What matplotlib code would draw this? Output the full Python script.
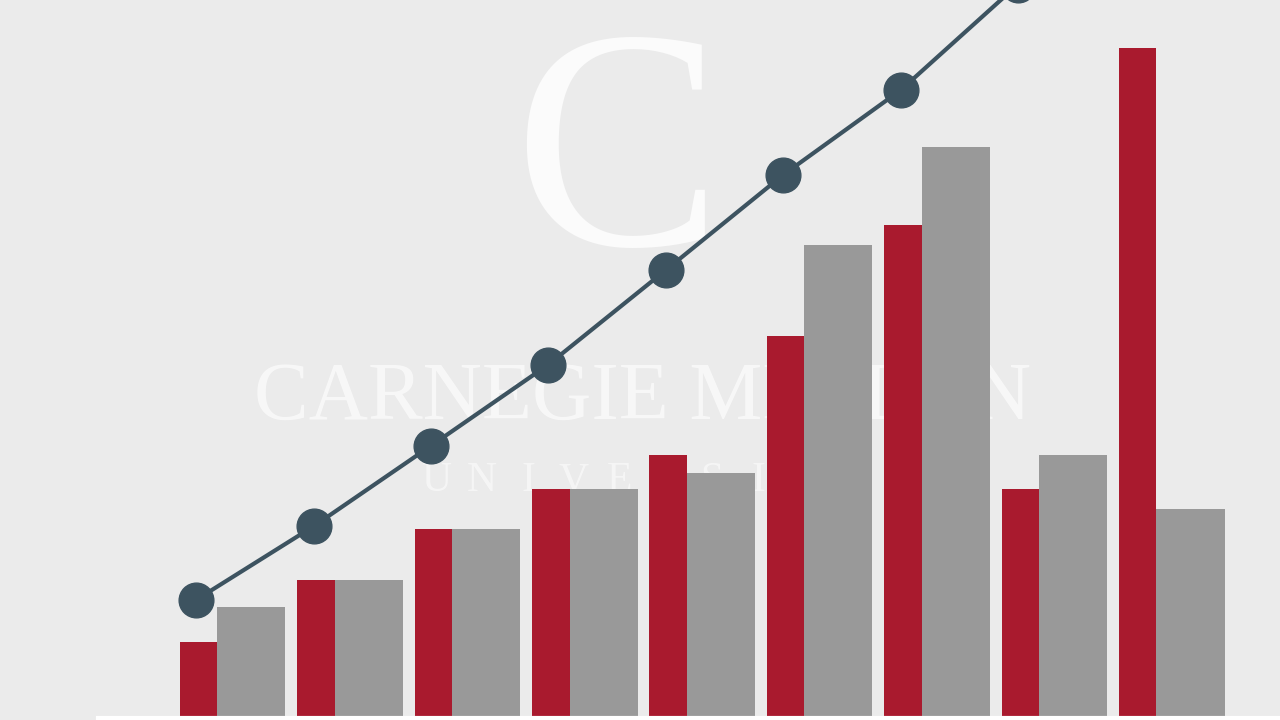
import numpy as np
import matplotlib.pyplot as plt

# values
red_vals = [10.6, 19.4, 26.7, 32.4, 37.3, 54.3, 70.1, 32.4, 95.4]
gray_vals = [15.6, 19.4, 26.7, 32.4, 34.7, 67.3, 81.3, 37.3, 29.6]
line_vals = [16.6, 27.1, 38.6, 50.2, 63.7, 77.3, 89.4, 104.5]

bg = '#ebebeb'
red = '#a91a2e'
gray = '#999999'
slate = '#3d5360'

x = np.arange(len(red_vals))
wr = 0.32
wg = 0.58

fig = plt.figure(figsize=(12.8, 7.2), dpi=100, facecolor=bg)
ax = fig.add_axes([0, 0, 1, 1])
ax.set_facecolor(bg)

# watermark
ax.text(0.482, 0.66, 'C', transform=ax.transAxes, ha='center', va='baseline',
        fontsize=225, family='Liberation Serif', color='#fbfbfb', zorder=1)
ax.text(0.502, 0.418, 'CARNEGIE MELLON', transform=ax.transAxes, ha='center',
        va='baseline', fontsize=59, family='Liberation Serif', color='white',
        alpha=0.65, zorder=1)
for i, ch in enumerate('UNIVERSITY'):
    ax.text((436 + 46 * i) / 1280, 0.318, ch, transform=ax.transAxes,
            ha='center', va='baseline', fontsize=30, family='Liberation Serif',
            color='white', alpha=0.55, zorder=1)

ax.bar(x, red_vals, wr, color=red, zorder=2)
ax.bar(x + wr / 2 + wg / 2, gray_vals, wg, color=gray, zorder=2)
ax.plot(x[:len(line_vals)] - 0.02, line_vals, color=slate, lw=3, marker='o',
        markersize=25, zorder=3)

ax.axhline(-0.3, xmin=98 / 1280, xmax=1, color='white', lw=3, zorder=4)

ax.set_xlim(-1.691, 9.212)
ax.set_ylim(-0.57, 102.29)
ax.axis('off')

fig.savefig('out.png', dpi=100, facecolor=bg)
